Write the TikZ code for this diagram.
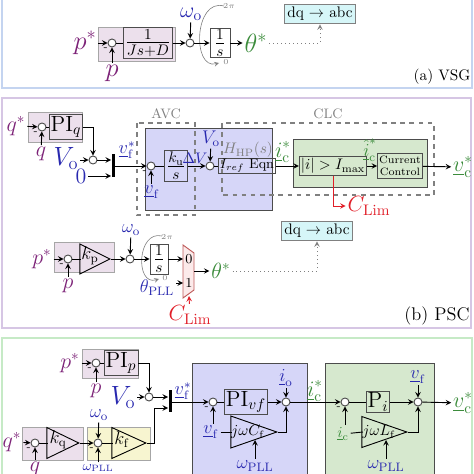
\documentclass[tikz,border=0pt]{standalone}
\usepackage{amsmath, amssymb}
\usepackage{tikz}
\usetikzlibrary{calc, arrows.meta, positioning, shapes.geometric}
\definecolor{sigPurple}{RGB}{125,35,120}
\definecolor{sigBlue}{RGB}{40,40,175}
\definecolor{sigGreen}{RGB}{60,140,60}
\definecolor{sigRed}{RGB}{225,30,40}
\definecolor{fPink}{RGB}{236,224,236}
\definecolor{fLav}{RGB}{214,214,248}
\definecolor{fGrn}{RGB}{214,232,206}
\definecolor{fYlw}{RGB}{247,245,208}
\definecolor{fCyan}{RGB}{214,246,248}
\definecolor{fMux}{RGB}{252,234,234}
\definecolor{muxEdge}{RGB}{190,90,90}
\definecolor{frameA}{RGB}{196,212,240}
\definecolor{frameB}{RGB}{214,198,228}
\definecolor{frameC}{RGB}{198,234,198}
\definecolor{boxGray}{gray}{0.3}
\newcommand{\pxu}{0.023cm}

\begin{document}
\begin{tikzpicture}[x=\pxu, y=-\pxu, >=stealth, semithick,
    blk/.style={draw=boxGray, inner sep=1pt},
    sumc/.style={circle, draw=boxGray, fill=white, inner sep=0pt, minimum size=8*\pxu},
    neg/.style={label={[font=\scriptsize, inner sep=0.5pt]225:-}},
    gain/.style={draw=black, isosceles triangle, isosceles triangle stretches, shape border rotate=0, inner sep=0pt},
    gaintxt/.style={font=\large, inner sep=0pt},
    muxbar/.style={fill=black, inner sep=0pt, minimum width=3*\pxu},
    sigP/.style={text=sigPurple, font=\Large, inner sep=1pt},
    sigB/.style={text=sigBlue, font=\large, inner sep=1pt},
    sigG/.style={text=sigGreen, font=\Large, inner sep=1pt},
    sigR/.style={text=sigRed, font=\Large, inner sep=1pt},
    xform/.style={draw=gray, fill=fCyan, inner sep=2pt},
    grp/.style={text=gray, font=\small},
    pinkbox/.style={fill=fPink, draw=gray!70},
    ylwbox/.style={fill=fYlw, draw=gray!70},
    lavbox/.style={fill=fLav, draw=black!70},
    grnbox/.style={fill=fGrn, draw=black!70},
    dashbox/.style={draw=gray, dashed, thick},
    wrap/.style={draw=gray, thin, ->}]
    \useasboundingbox (0,0) rectangle (474,474);

    % Panel frames
    \draw[frameA, line width=1.2pt] (2,-20) rectangle (472,88);
    \draw[frameB, line width=1.2pt] (2,98) rectangle (471,328);
    \draw[frameC, line width=1.2pt] (2,338) rectangle (472,500);

    % (a) VSG
    \draw[pinkbox] (98,27) rectangle (175,61);
    \node[sumc, neg] (sumA) at (112,43) {};
    \node[sigP, font=\LARGE] (pstarA) at (85,43) {$p^*$};
    \node[sigP, font=\LARGE] (pA) at (112,73) {$p$};
    \node[blk, minimum width=47*\pxu, minimum height=24*\pxu, font=\Large] (swingA) at (148,43) {$\frac{1}{Js+D}$};
    \node[sumc] (sumWA) at (190,43) {};
    \node[sigB, font=\Large] (woA) at (191,14) {$\omega_{\mathrm{o}}$};
    \node[blk, minimum width=20*\pxu, minimum height=26*\pxu, font=\Large] (intA) at (220,43) {$\frac{1}{s}$};
    \node[sigG, font=\LARGE] (thA) at (256,43) {$\theta^*$};
    \node[xform] (dqA) at (320,14) {dq $\to$ abc};
    \node (capA) at (442,77) {(a) VSG};
    \draw[wrap] (224,6) .. controls (194,-2) and (192,70) .. (219,63);
    \node[font=\tiny, text=gray, inner sep=0pt] (twopiA) at (229,6) {$2\pi$};
    \node[font=\tiny, text=gray, inner sep=0pt] (zeroA) at (226,62) {$0$};

    \draw[->] (pstarA) -- (sumA);
    \draw[->] (pA) -- (sumA);
    \draw (sumA) -- (swingA);
    \draw[->] (swingA) -- (sumWA);
    \draw[->] (woA) -- (sumWA);
    \draw[->] (sumWA) -- (intA);
    \draw[->] (intA) -- (thA);
    \draw[dotted, gray, ->] (thA) -| (dqA);

    % (b) PSC, voltage loop
    \draw[pinkbox] (28,112) rectangle (82,142);
    \node[sumc, neg] (sumQ) at (42,127) {};
    \node[sigP] (qstarB) at (16,126) {$q^*$};
    \node[sigP] (qB) at (41,154) {$q$};
    \node[blk, minimum width=28*\pxu, minimum height=21*\pxu, font=\Large] (piQ) at (66,127) {PI$_q$};
    \node[sumc] (sumVB) at (93,160) {};
    \node[sigB, font=\LARGE] (voB) at (66,158) {$V_{\mathrm{o}}$};
    \node[sigB, font=\Large] (zeroB) at (81,176) {$0$};
    \node[muxbar, minimum height=23*\pxu] (barB) at (113,166) {};
    \node[sigB] (vfsB) at (127,150) {$\underline{v}_{\mathrm{f}}^*$};

    \draw[lavbox] (145,128) rectangle (272,210);
    \draw[grnbox] (293,139) rectangle (427,187);
    \draw[dashbox] (137,123) rectangle (195,215);
    \draw[dashbox] (222,123) rectangle (434,195);
    \node[grp] (avcB) at (166,114) {AVC};
    \node[grp] (clcB) at (328,114) {CLC};

    \node[sumc, neg] (sumAVC) at (151,166) {};
    \node[sigB] (vfB) at (152,192) {$\underline{v}_{\mathrm{f}}$};
    \node[blk, minimum width=18*\pxu, minimum height=28*\pxu, font=\Large] (kuB) at (176,166) {$\frac{k_{\mathrm{u}}}{s}$};
    \node[sigB, font=\normalsize] (dvB) at (195,158) {$\Delta V$};
    \node[sumc] (sumV2B) at (210,166) {};
    \node[sigB] (vo2B) at (211,139) {$V_{\mathrm{o}}$};
    \node[grp, font=\normalsize] (hhpB) at (248,150) {$H_{\mathrm{HP}}(s)$};
    \node[blk, minimum width=46*\pxu, minimum height=15*\pxu, font=\small] (irefB) at (247,166) {$I_{ref}$ Eqn};
    \node[sigG] (icsB) at (283,152) {$\underline{i}_{\mathrm{c}}^*$};
    \node[blk, minimum width=54*\pxu, minimum height=16*\pxu] (imaxB) at (333,166) {$|i|>I_{\max}$};
    \node[sigG, font=\large] (ichB) at (370,150) {$\hat{\underline{i}}_{\mathrm{c}}^*$};
    \node[blk, align=center, font=\scriptsize, minimum width=36*\pxu, minimum height=25*\pxu] (ccB) at (400,166) {Current\\Control};
    \node[sigG] (vcsB) at (463,167) {$\underline{v}_{\mathrm{c}}^*$};
    \node[sigR] (climB) at (369,206) {$C_{\mathrm{Lim}}$};

    \draw[->] (qstarB) -- (sumQ);
    \draw[->] (qB) -- (sumQ);
    \draw (sumQ) -- (piQ);
    \draw[->] (piQ) -| (sumVB);
    \draw[->] (voB.east |- sumVB) -- (sumVB);
    \draw[->] (sumVB) -- (sumVB -| barB.west);
    \draw[->] (zeroB) -- (zeroB -| barB.west);
    \draw[->] (barB) -- (sumAVC);
    \draw[->] (vfB.north -| sumAVC) -- (sumAVC);
    \draw (sumAVC) -- (kuB);
    \draw[->] (kuB) -- (sumV2B);
    \draw[->] (vo2B) -- (sumV2B);
    \draw (sumV2B) -- (irefB);
    \draw[->] (irefB) -- (imaxB);
    \draw[->] (imaxB) -- (ccB);
    \draw[->] (ccB) -- (vcsB);
    \draw[->, sigRed] (imaxB.south) |- (climB);

    % (b) PSC, angle loop
    \draw[pinkbox] (54,242) rectangle (114,272);
    \node[sumc, neg] (sumP) at (68,259) {};
    \node[sigP] (pstarB) at (42,259) {$p^*$};
    \node[sigP] (pB) at (68,286) {$p$};
    \node[gain, minimum width=30*\pxu, minimum height=30*\pxu, anchor=apex] (kpB) at (111,259) {};
    \node[gaintxt] (kpTxt) at (90,256) {$k_{\mathrm{p}}$};
    \node[sumc] (sumWB) at (130,259) {};
    \node[sigB] (woB) at (131,230) {$\omega_{\mathrm{o}}$};
    \node[blk, minimum width=18*\pxu, minimum height=30*\pxu, font=\Large] (intB) at (159,259) {$\frac{1}{s}$};
    \draw[wrap] (162,236) .. controls (137,230) and (135,286) .. (159,279);
    \node[font=\tiny, text=gray, inner sep=0pt] (twopiB) at (167,237) {$2\pi$};
    \node[font=\tiny, text=gray, inner sep=0pt] (zeroB2) at (165,278) {$0$};
    \draw[fill=fMux, draw=muxEdge] (183,245) -- (194,253) -- (194,290) -- (183,298) -- cycle;
    \node[font=\small, inner sep=0pt] (mux0) at (189,259) {0};
    \node[font=\small, inner sep=0pt] (mux1) at (189,283) {1};
    \coordinate (muxIn0) at (183,259);
    \coordinate (muxIn1) at (183,283);
    \coordinate (muxOut) at (194,271);
    \coordinate (muxBot) at (189,296);
    \node[sigB] (thPLL) at (157,288) {$\theta_{\mathrm{PLL}}$};
    \node[sigG] (thB) at (221,271) {$\theta^*$};
    \node[sigR] (clim2B) at (190,315) {$C_{\mathrm{Lim}}$};
    \node[xform] (dqB) at (317,231) {dq $\to$ abc};
    \node[font=\large] (capB) at (437,316) {(b) PSC};

    \draw[->] (pstarB) -- (sumP);
    \draw[->] (pB) -- (sumP);
    \draw (sumP) -- ($(kpB.apex)+(-30,0)$);
    \draw[->] (kpB.apex) -- (sumWB);
    \draw[->] (woB) -- (sumWB);
    \draw[->] (sumWB) -- (intB);
    \draw[->] (intB) -- (muxIn0);
    \draw[->] (thPLL.east |- muxIn1) -- (muxIn1);
    \draw[->] (muxOut) -- (thB);
    \draw[->, sigRed] (clim2B) -- (muxBot);
    \draw[dotted, gray, ->] (thB) -| (dqB);

    % (c) droop and cascaded loops
    \draw[pinkbox] (82,349) rectangle (138,378);
    \node[sumc, neg] (sumPc) at (96,363) {};
    \node[sigP] (pstarC) at (70,363) {$p^*$};
    \node[sigP] (pC) at (96,391) {$p$};
    \node[blk, minimum width=28*\pxu, minimum height=20*\pxu, font=\Large] (piP) at (121,363) {PI$_p$};
    \node[sumc] (sumVc) at (149,397) {};
    \node[sigB, font=\LARGE] (voC) at (123,397) {$V_{\mathrm{o}}$};
    \node[muxbar, minimum height=22*\pxu] (barC) at (170,401) {};
    \node[sigB] (vfsC) at (183,391) {$\underline{v}_{\mathrm{f}}^*$};

    \draw[lavbox] (192,363) rectangle (307,490);
    \draw[grnbox] (325,363) rectangle (434,490);

    \node[sumc, neg] (sumC1) at (213,402) {};
    \node[sigB] (vfC) at (211,432) {$\underline{v}_{\mathrm{f}}$};
    \node[blk, minimum width=23*\pxu, minimum height=19*\pxu, font=\Large] (piVf) at (246,402) {PI$_{vf}$};
    \node[sumc] (sumC2) at (286,402) {};
    \node[sigB] (ioC) at (286,378) {$\underline{i}_{\mathrm{o}}$};
    \node[gain, minimum height=46*\pxu, minimum width=32*\pxu, anchor=apex] (jwC) at (278,432) {};
    \node[gaintxt, font=\normalsize] (jwCTxt) at (248,432) {$j\omega C_{\mathrm{f}}$};
    \node[sigB] (wpllC1) at (255,466) {$\omega_{\mathrm{PLL}}$};
    \node[sigG] (icsC) at (315,391) {$\underline{i}_{\mathrm{c}}^*$};
    \node[sumc, neg] (sumC3) at (345,402) {};
    \node[sigG, font=\normalsize] (icC) at (343,434) {$\underline{i}_{\mathrm{c}}$};
    \node[blk, minimum width=23*\pxu, minimum height=19*\pxu, font=\Large] (piI) at (378,402) {P$_i$};
    \node[sumc] (sumC4) at (418,402) {};
    \node[sigB] (vfC2) at (418,377) {$\underline{v}_{\mathrm{f}}$};
    \node[gain, minimum height=45*\pxu, minimum width=31*\pxu, anchor=apex] (jwL) at (408,432) {};
    \node[gaintxt, font=\normalsize] (jwLTxt) at (379,432) {$j\omega L_{\mathrm{f}}$};
    \node[sigB] (wpllC2) at (386,466) {$\omega_{\mathrm{PLL}}$};
    \node[sigG] (vcsC) at (463,403) {$\underline{v}_{\mathrm{c}}^*$};

    \draw[pinkbox] (22,427) rectangle (83,460);
    \draw[ylwbox] (87,427) rectangle (150,460);
    \node[sumc, neg] (sumQc) at (35,443) {};
    \node[sigP] (qstarC) at (12,442) {$q^*$};
    \node[sigP] (qC) at (35,469) {$q$};
    \node[gain, minimum height=32*\pxu, minimum width=31*\pxu, anchor=apex] (kqC) at (80,443) {};
    \node[gaintxt] (kqTxt) at (58,440) {$k_{\mathrm{q}}$};
    \node[sumc, neg] (sumWc) at (98,443) {};
    \node[sigB] (woC) at (99,415) {$\omega_{\mathrm{o}}$};
    \node[sigB, font=\small] (wpllC) at (98,468) {$\omega_{\mathrm{PLL}}$};
    \node[gain, minimum height=34*\pxu, minimum width=31*\pxu, anchor=apex] (kfC) at (147,443) {};
    \node[gaintxt] (kfTxt) at (122,440) {$k_{\mathrm{f}}$};
    \coordinate (kfUp) at (154,408);

    \draw[->] (pstarC) -- (sumPc);
    \draw[->] (pC) -- (sumPc);
    \draw (sumPc) -- (piP);
    \draw[->] (piP) -| (sumVc);
    \draw[->] (voC) -- (sumVc);
    \draw[->] (sumVc) -- (sumVc -| barC.west);
    \draw[->] (kfC.apex) -| (kfUp) -- (kfUp -| barC.west);
    \draw[->] (barC.east |- sumC1) -- (sumC1);
    \draw[->] (vfC.north -| sumC1) -- (sumC1);
    \draw (vfC) -- ($(jwC.apex)+(-46,0)$);
    \draw (sumC1) -- (piVf);
    \draw[->] (piVf) -- (sumC2);
    \draw[->] (ioC) -- (sumC2);
    \draw[->] (jwC.apex) -| (sumC2);
    \draw[->] (wpllC1) -- ($(jwC.apex)+(-23,8)$);
    \draw[->] (sumC2) -- (sumC3);
    \draw[->] (icC.north -| sumC3) -- (sumC3);
    \draw (icC) -- ($(jwL.apex)+(-45,0)$);
    \draw (sumC3) -- (piI);
    \draw[->] (piI) -- (sumC4);
    \draw[->] (vfC2) -- (sumC4);
    \draw[->] (jwL.apex) -| (sumC4);
    \draw[->] (wpllC2) -- ($(jwL.apex)+(-22,8)$);
    \draw[->] (sumC4) -- (vcsC);
    \draw[->] (qstarC) -- (sumQc);
    \draw[->] (qC) -- (sumQc);
    \draw (sumQc) -- ($(kqC.apex)+(-32,0)$);
    \draw[->] (kqC.apex) -- (sumWc);
    \draw[->] (woC) -- (sumWc);
    \draw[->] (wpllC) -- (sumWc);
    \draw (sumWc) -- ($(kfC.apex)+(-34,0)$);
\end{tikzpicture}
\end{document}
